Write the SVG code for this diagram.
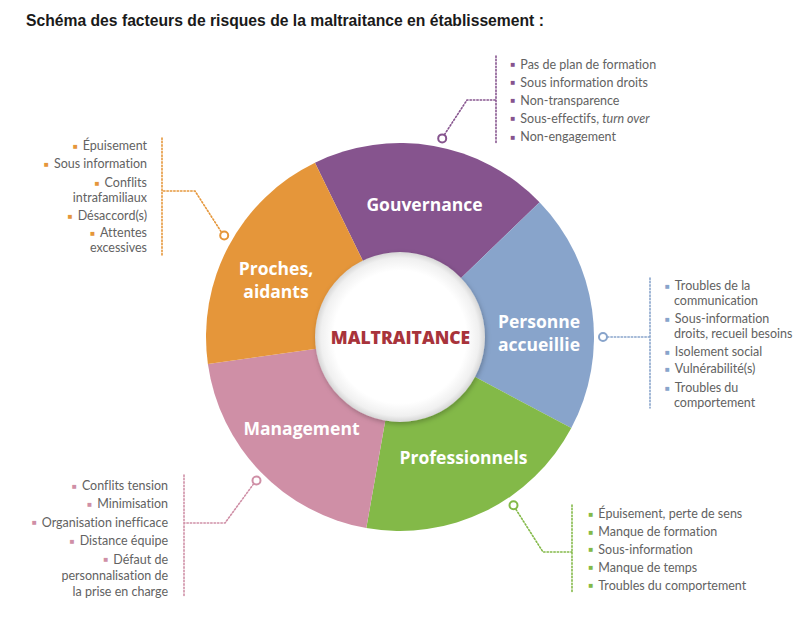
<svg xmlns="http://www.w3.org/2000/svg" width="808" height="625" viewBox="0 0 808 625">
<defs>
<style>
.title{font-family:"Liberation Sans",Arial,sans-serif;font-weight:bold;font-size:15.7px;fill:#1a1a1a}
.seg{font-family:"Open Sans",Lato,sans-serif;font-weight:bold;font-size:17.5px;fill:#ffffff;text-anchor:middle}
.center{font-family:"Open Sans",Lato,sans-serif;font-weight:800;font-size:17.5px;fill:#a8333b;text-anchor:middle}
.li{font-family:Lato,"Open Sans",sans-serif;font-size:12.5px;fill:#626262;font-variant-ligatures:none;font-feature-settings:"liga" 0,"dlig" 0}
.end{text-anchor:end}
.dot{fill:none;stroke-width:1.6;stroke-dasharray:1.4 2;stroke-linecap:round}
.ring{fill:#ffffff;stroke-width:2}
.pu{stroke:#86548e}.pu-f{fill:#86548e}
.bl{stroke:#88a4cb}.bl-f{fill:#88a4cb}
.gr{stroke:#83b948}.gr-f{fill:#83b948}
.pk{stroke:#cf8fa6}.pk-f{fill:#cf8fa6}
.or{stroke:#e5963a}.or-f{fill:#e5963a}
.b{font-size:8px}
</style>
<radialGradient id="cg" cx="0.5" cy="0.5" r="0.5">
<stop offset="0" stop-color="#ffffff"/>
<stop offset="0.78" stop-color="#ffffff"/>
<stop offset="0.93" stop-color="#f0f0f0"/>
<stop offset="1" stop-color="#d6d6d6"/>
</radialGradient>
<filter id="sh" x="-20%" y="-20%" width="140%" height="140%">
<feDropShadow dx="1" dy="2" stdDeviation="2.5" flood-color="#000" flood-opacity="0.25"/>
</filter>
</defs>
<rect width="808" height="625" fill="#ffffff"/>
<text class="title" x="26" y="26">Schéma des facteurs de risques de la maltraitance en établissement :</text>

<g id="gouvernance">
<path class="pu-f" d="M400 337 L314.96 162.63 A194 194 0 0 1 539.55 202.24 Z"/>
<text class="seg" x="424.5" y="210.5">Gouvernance</text>
</g>
<g id="personne-accueillie">
<path class="bl-f" d="M400 337 L539.55 202.24 A194 194 0 0 1 571.29 428.08 Z"/>
<text class="seg" x="539" y="328">Personne</text>
<text class="seg" x="539" y="351">accueillie</text>
</g>
<g id="professionnels">
<path class="gr-f" d="M400 337 L571.29 428.08 A194 194 0 0 1 366.31 528.05 Z"/>
<text class="seg" x="463.5" y="463.5">Professionnels</text>
</g>
<g id="management">
<path class="pk-f" d="M400 337 L366.31 528.05 A194 194 0 0 1 207.89 364.00 Z"/>
<text class="seg" x="301.5" y="435">Management</text>
</g>
<g id="proches-aidants">
<path class="or-f" d="M400 337 L207.89 364.00 A194 194 0 0 1 314.96 162.63 Z"/>
<text class="seg" x="276" y="275">Proches,</text>
<text class="seg" x="276" y="297.5">aidants</text>
</g>
<g id="maltraitance">
<circle cx="400" cy="337" r="85" fill="url(#cg)" filter="url(#sh)"/>
<text class="center" x="400.5" y="344">MALTRAITANCE</text>
</g>

<g id="connectors">
<path class="dot pu" d="M444.5 134.5 L467 100 L496 100 M496 56 L496 143"/>
<circle class="ring pu" cx="442.2" cy="138.4" r="4"/>
<path class="dot or" d="M221 231.5 L195 191 L162 191 M162 138 L162 256"/>
<circle class="ring or" cx="224.2" cy="235.5" r="4"/>
<path class="dot bl" d="M607.5 337 L650 337 M650 278 L650 408"/>
<circle class="ring bl" cx="603" cy="337" r="4"/>
<path class="dot gr" d="M516 509.5 L543 552 L572 552 M572 505 L572 593"/>
<circle class="ring gr" cx="513.5" cy="505.3" r="4"/>
<path class="dot pk" d="M253.5 484 L225 523 L184 523 M184 475 L184 597"/>
<circle class="ring pk" cx="256.5" cy="480.5" r="4"/>
</g>

<g id="list-gouvernance" class="li">
<text x="510.5" y="68.5"><tspan class="b pu-f" dy="-1.5">■</tspan><tspan dx="5" dy="1.5">Pas de plan de formation</tspan></text>
<text x="510.5" y="86.5"><tspan class="b pu-f" dy="-1.5">■</tspan><tspan dx="5" dy="1.5">Sous information droits</tspan></text>
<text x="510.5" y="104.5"><tspan class="b pu-f" dy="-1.5">■</tspan><tspan dx="5" dy="1.5">Non-transparence</tspan></text>
<text x="510.5" y="122.5"><tspan class="b pu-f" dy="-1.5">■</tspan><tspan dx="5" dy="1.5">Sous-effectifs, </tspan><tspan font-style="italic">turn over</tspan></text>
<text x="510.5" y="141"><tspan class="b pu-f" dy="-1.5">■</tspan><tspan dx="5" dy="1.5">Non-engagement</tspan></text>
</g>

<g id="list-proches" class="li end">
<text x="147" y="150"><tspan class="b or-f" dy="-1.5">■</tspan><tspan dx="5" dy="1.5">Épuisement</tspan></text>
<text x="147" y="168"><tspan class="b or-f" dy="-1.5">■</tspan><tspan dx="5" dy="1.5">Sous information</tspan></text>
<text x="147" y="187"><tspan class="b or-f" dy="-1.5">■</tspan><tspan dx="5" dy="1.5">Conflits</tspan></text>
<text x="147" y="202">intrafamiliaux</text>
<text x="147" y="220"><tspan class="b or-f" dy="-1.5">■</tspan><tspan dx="5" dy="1.5">Désaccord(s)</tspan></text>
<text x="147" y="237"><tspan class="b or-f" dy="-1.5">■</tspan><tspan dx="5" dy="1.5">Attentes</tspan></text>
<text x="147" y="252">excessives</text>
</g>

<g id="list-personne" class="li">
<text x="665" y="290"><tspan class="b bl-f" dy="-1.5">■</tspan><tspan dx="5" dy="1.5">Troubles de la</tspan></text>
<text x="674" y="305">communication</text>
<text x="665" y="323"><tspan class="b bl-f" dy="-1.5">■</tspan><tspan dx="5" dy="1.5">Sous-information</tspan></text>
<text x="674" y="338">droits, recueil besoins</text>
<text x="665" y="356"><tspan class="b bl-f" dy="-1.5">■</tspan><tspan dx="5" dy="1.5">Isolement social</tspan></text>
<text x="665" y="373"><tspan class="b bl-f" dy="-1.5">■</tspan><tspan dx="5" dy="1.5">Vulnérabilité(s)</tspan></text>
<text x="665" y="392"><tspan class="b bl-f" dy="-1.5">■</tspan><tspan dx="5" dy="1.5">Troubles du</tspan></text>
<text x="674" y="407">comportement</text>
</g>

<g id="list-professionnels" class="li">
<text x="588.5" y="518"><tspan class="b gr-f" dy="-1.5">■</tspan><tspan dx="5" dy="1.5">Épuisement, perte de sens</tspan></text>
<text x="588.5" y="536"><tspan class="b gr-f" dy="-1.5">■</tspan><tspan dx="5" dy="1.5">Manque de formation</tspan></text>
<text x="588.5" y="553.5"><tspan class="b gr-f" dy="-1.5">■</tspan><tspan dx="5" dy="1.5">Sous-information</tspan></text>
<text x="588.5" y="571.5"><tspan class="b gr-f" dy="-1.5">■</tspan><tspan dx="5" dy="1.5">Manque de temps</tspan></text>
<text x="588.5" y="589.5"><tspan class="b gr-f" dy="-1.5">■</tspan><tspan dx="5" dy="1.5">Troubles du comportement</tspan></text>
</g>

<g id="list-management" class="li end">
<text x="168" y="490"><tspan class="b pk-f" dy="-1.5">■</tspan><tspan dx="5" dy="1.5">Conflits tension</tspan></text>
<text x="168" y="508"><tspan class="b pk-f" dy="-1.5">■</tspan><tspan dx="5" dy="1.5">Minimisation</tspan></text>
<text x="168" y="526.5"><tspan class="b pk-f" dy="-1.5">■</tspan><tspan dx="5" dy="1.5">Organisation inefficace</tspan></text>
<text x="168" y="545"><tspan class="b pk-f" dy="-1.5">■</tspan><tspan dx="5" dy="1.5">Distance équipe</tspan></text>
<text x="168" y="563.5"><tspan class="b pk-f" dy="-1.5">■</tspan><tspan dx="5" dy="1.5">Défaut de</tspan></text>
<text x="168" y="580">personnalisation de</text>
<text x="168" y="596">la prise en charge</text>
</g>
</svg>
